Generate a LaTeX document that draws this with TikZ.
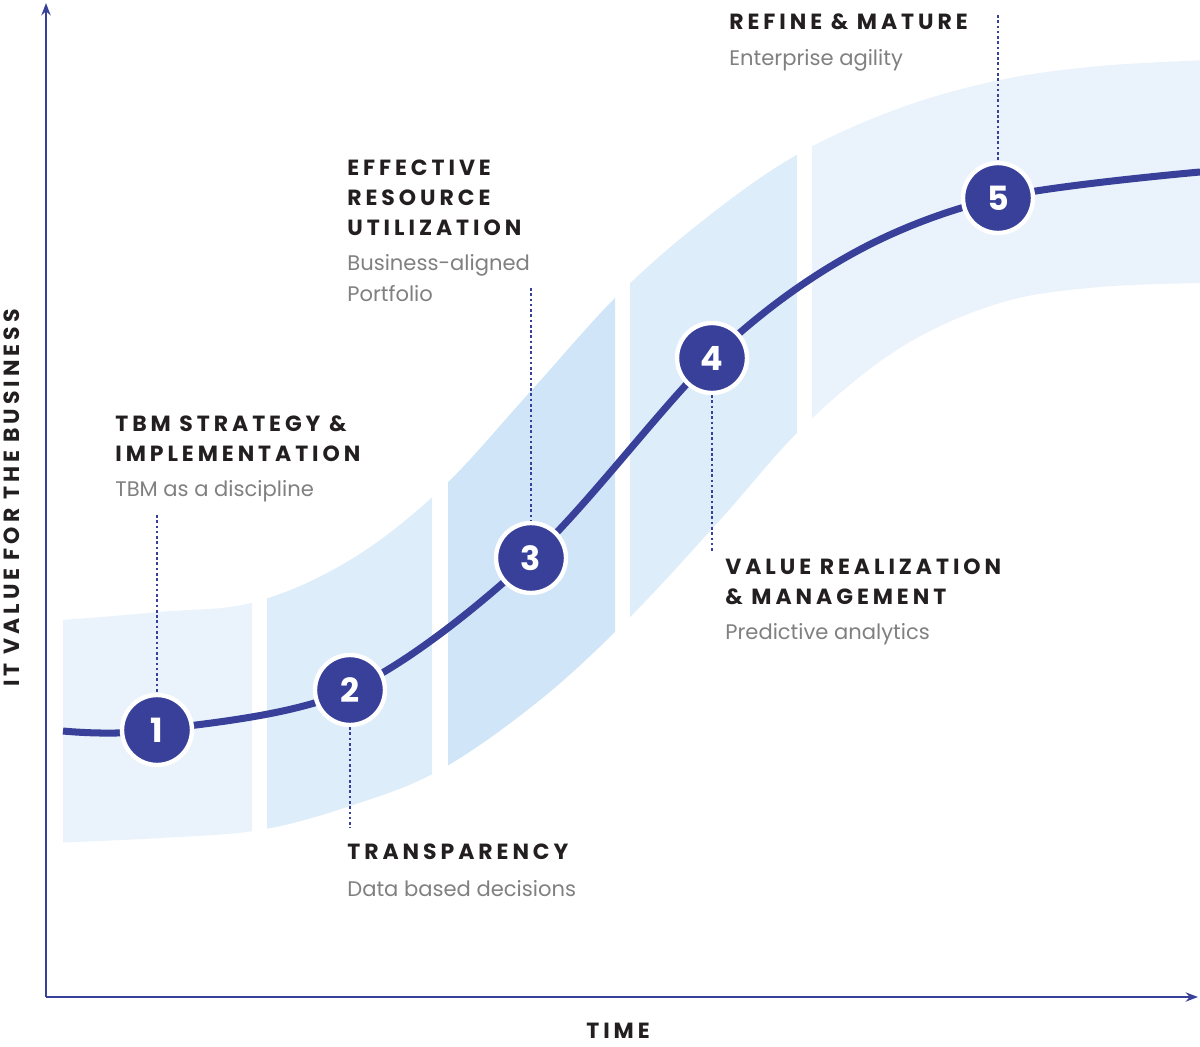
\documentclass[tikz,border=0pt]{standalone}
\usetikzlibrary{arrows.meta}
\usepackage{fontspec}
\setmainfont{Poppins}
\newfontfamily\headf[LetterSpace=18]{Poppins Bold}
\newfontfamily\numf{Poppins Bold}
\definecolor{navy}{HTML}{39409A}
\definecolor{bA}{HTML}{EAF3FB}
\definecolor{bB}{HTML}{DDEDF9}
\definecolor{bC}{HTML}{D0E5F7}
\definecolor{txt}{HTML}{231F20}
\definecolor{sub}{HTML}{808080}
\newcommand\mybandpath{plot[smooth,tension=0.6] coordinates {(50,621)(160,612)(255,602)(350,560)(440,490)(530,392)(620,293)(710,215)(800,153)(900,108)(1000,80)(1100,66)(1210,60)} -- plot[smooth,tension=0.6] coordinates {(1210,283)(1100,287)(1000,303)(900,348)(805,425)(720,520)(630,617)(540,700)(440,770)(350,806)(260,830)(160,838)(50,843)} -- cycle}
\begin{document}
\begin{tikzpicture}[x=0.02cm,y=-0.02cm,
  head/.style={anchor=west,inner sep=0pt,text=txt,font=\headf\fontsize{12.5}{15}\selectfont},
  subt/.style={anchor=west,inner sep=0pt,text=sub,font=\fontsize{12}{14}\selectfont},
  dotl/.style={navy,line width=0.6pt,dash pattern=on 1.5pt off 1.5pt},
  stepc/.style={circle,fill=navy,draw=white,line width=2.5pt,minimum size=1.4cm,inner sep=0pt,text=white,font=\numf\fontsize{19}{20}\selectfont}]
\useasboundingbox (0,0) rectangle (1200,1047);
\foreach \a/\b/\c in {63/252/bA,267/432/bB,448/615/bC,630/797/bB,812/1200/bA}{
  \begin{scope}\clip (\a,0) rectangle (\b,1047);
  \fill[\c] \mybandpath;\end{scope}}
\draw[navy,line width=1.2pt,-{Stealth[length=7pt]}] (46,997) -- (46,3);
\draw[navy,line width=1.2pt,-{Stealth[length=7pt]}] (46,997) -- (1198,997);
\draw[navy,line width=4pt] plot[smooth,tension=0.55] coordinates {(63,731)(157,730)(350,690)(531,558)(712,358)(850,255)(998,198)(1200,172)};
\coordinate (d1a) at (157,515); \coordinate (d2b) at (350,828);
\coordinate (d3a) at (531,288); \coordinate (d4b) at (712,553);
\coordinate (d5a) at (998,15);
\node[stepc] (s1) at (157,730) {1};
\node[stepc] (s2) at (350,690) {2};
\node[stepc] (s3) at (531,558) {3};
\node[stepc] (s4) at (712,358) {4};
\node[stepc] (s5) at (998,198) {5};
\draw[dotl] (d1a) -- (s1); \draw[dotl] (s2) -- (d2b);
\draw[dotl] (d3a) -- (s3); \draw[dotl] (s4) -- (d4b);
\draw[dotl] (d5a) -- (s5);
\node[head] (h5) at (729,22) {REFINE \& MATURE};
\node[subt] (t5) at (729,60) {Enterprise agility};
\node[head] (h3a) at (347,168) {EFFECTIVE};
\node[head] (h3b) at (347,198) {RESOURCE};
\node[head] (h3c) at (347,228) {UTILIZATION};
\node[subt] (t3a) at (347,265) {Business-aligned};
\node[subt] (t3b) at (347,294) {Portfolio};
\node[head] (h1a) at (115,424) {TBM STRATEGY \&};
\node[head] (h1b) at (115,454) {IMPLEMENTATION};
\node[subt] (t1) at (115,491) {TBM as a discipline};
\node[head] (h4a) at (725,567) {VALUE REALIZATION};
\node[head] (h4b) at (725,597) {\& MANAGEMENT};
\node[subt] (t4) at (725,634) {Predictive analytics};
\node[head] (h2) at (347,852) {TRANSPARENCY};
\node[subt] (t2) at (347,889) {Data based decisions};
\node[head,anchor=center] (tx) at (618,1031) {TIME};
\node[head,anchor=center,rotate=90] (ty) at (12,498) {IT VALUE FOR THE BUSINESS};
\end{tikzpicture}
\end{document}
